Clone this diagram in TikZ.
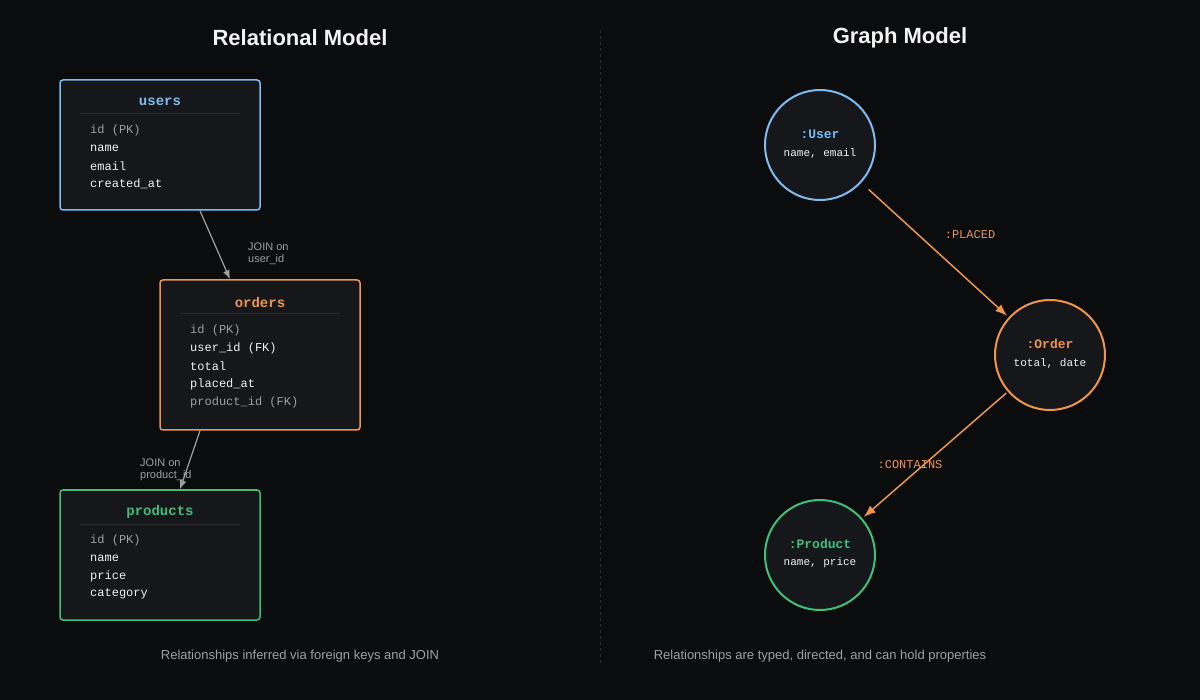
\documentclass[tikz,border=0pt]{standalone}
\usepackage{fontspec}
\setmainfont{Liberation Sans}
\setmonofont{Liberation Mono}
\usetikzlibrary{arrows.meta}
\definecolor{bg}{HTML}{0B0C0E}
\definecolor{boxbg}{HTML}{15171B}
\definecolor{cblue}{HTML}{7DBBF0}
\definecolor{corange}{HTML}{F0954A}
\definecolor{cgreen}{HTML}{3FBF7A}
\definecolor{tgray}{HTML}{A0A0A0}
\definecolor{twhite}{HTML}{F2F2F2}
\definecolor{sep}{HTML}{2A2D33}
\begin{document}
\begin{tikzpicture}[x=1pt,y=-1pt,
  box/.style={draw,line width=1.5pt,fill=boxbg,rounded corners=3pt,minimum width=200pt,minimum height=130pt,inner sep=0pt},
  btitle/.style={font=\fontsize{14}{16}\selectfont\ttfamily\bfseries},
  field/.style={anchor=west,font=\fontsize{12}{14}\selectfont\ttfamily,text=twhite,inner sep=0pt},
  pk/.style={field,text=tgray},
  title/.style={font=\fontsize{22}{26}\selectfont\bfseries,text=twhite},
  captext/.style={font=\fontsize{13}{15}\selectfont,text=tgray},
  jlabel/.style={font=\fontsize{11}{12}\selectfont,text=tgray,align=left,anchor=west,inner sep=0pt},
  circ/.style={circle,draw,line width=2pt,fill=boxbg,minimum size=110pt,inner sep=0pt},
  rel/.style={corange,line width=1.5pt,-{Latex[length=12pt,width=9pt]}},
  rlabel/.style={font=\fontsize{12}{14}\selectfont\ttfamily,text=corange},
  joinarrow/.style={tgray,line width=1.2pt,-{Latex[length=9pt,width=7pt]}}]
\fill[bg] (0,0) rectangle (1200,700);
\useasboundingbox (0,0) rectangle (1200,700);
\node[title] (t1) at (300,38) {Relational Model};
\node[title] (t2) at (900,38) {Graph Model};
\draw[sep,dashed,line width=1pt] (600,30) -- (600,665);
% users
\node[box,draw=cblue] (users) at (160,145) {};
\node[btitle,text=cblue] (ut) at (160,102) {users};
\draw[sep,line width=1pt] (80,114) -- (240,114);
\node[pk] (u1) at (90,130) {id (PK)};
\node[field] (u2) at (90,148) {name};
\node[field] (u3) at (90,166) {email};
\node[field] (u4) at (90,184) {created\_at};
% orders
\node[box,draw=corange,minimum height=150pt] (orders) at (260,355) {};
\node[btitle,text=corange] (ot) at (260,302) {orders};
\draw[sep,line width=1pt] (180,314) -- (340,314);
\node[pk] (o1) at (190,330) {id (PK)};
\node[field] (o2) at (190,348) {user\_id (FK)};
\node[field] (o3) at (190,366) {total};
\node[field] (o4) at (190,384) {placed\_at};
\node[pk] (o5) at (190,402) {product\_id (FK)};
% products
\node[box,draw=cgreen] (products) at (160,555) {};
\node[btitle,text=cgreen] (pt) at (160,512) {products};
\draw[sep,line width=1pt] (80,524) -- (240,524);
\node[pk] (p1) at (90,540) {id (PK)};
\node[field] (p2) at (90,558) {name};
\node[field] (p3) at (90,576) {price};
\node[field] (p4) at (90,594) {category};
% joins
\draw[joinarrow] ([xshift=40pt]users.south) -- ([xshift=-30pt]orders.north);
\node[jlabel] (j1) at (248,254) {JOIN on\\user\_id};
\draw[joinarrow] ([xshift=-60pt]orders.south) -- ([xshift=20pt]products.north);
\node[jlabel] (j2) at (140,470) {JOIN on\\product\_id};
% graph
\node[circ,draw=cblue] (U) at (820,145) {};
\node[font=\fontsize{13}{15}\selectfont\ttfamily\bfseries,text=cblue] at (820,134) {:User};
\node[font=\fontsize{11}{13}\selectfont\ttfamily,text=twhite] at (820,153) {name, email};
\node[circ,draw=corange] (O) at (1050,355) {};
\node[font=\fontsize{13}{15}\selectfont\ttfamily\bfseries,text=corange] at (1050,344) {:Order};
\node[font=\fontsize{11}{13}\selectfont\ttfamily,text=twhite] at (1050,363) {total, date};
\node[circ,draw=cgreen] (P) at (820,555) {};
\node[font=\fontsize{13}{15}\selectfont\ttfamily\bfseries,text=cgreen] at (820,544) {:Product};
\node[font=\fontsize{11}{13}\selectfont\ttfamily,text=twhite] at (820,563) {name, price};
\draw[rel,shorten <=10pt,shorten >=2pt] (U) -- (O);
\node[rlabel] (l1) at (970,235) {:PLACED};
\draw[rel,shorten <=2pt,shorten >=2pt] (O) -- (P);
\node[rlabel] (l2) at (910,465) {:CONTAINS};
\node[captext] (c1) at (300,656) {Relationships inferred via foreign keys and JOIN};
\node[captext] (c2) at (820,656) {Relationships are typed, directed, and can hold properties};
\end{tikzpicture}
\end{document}
